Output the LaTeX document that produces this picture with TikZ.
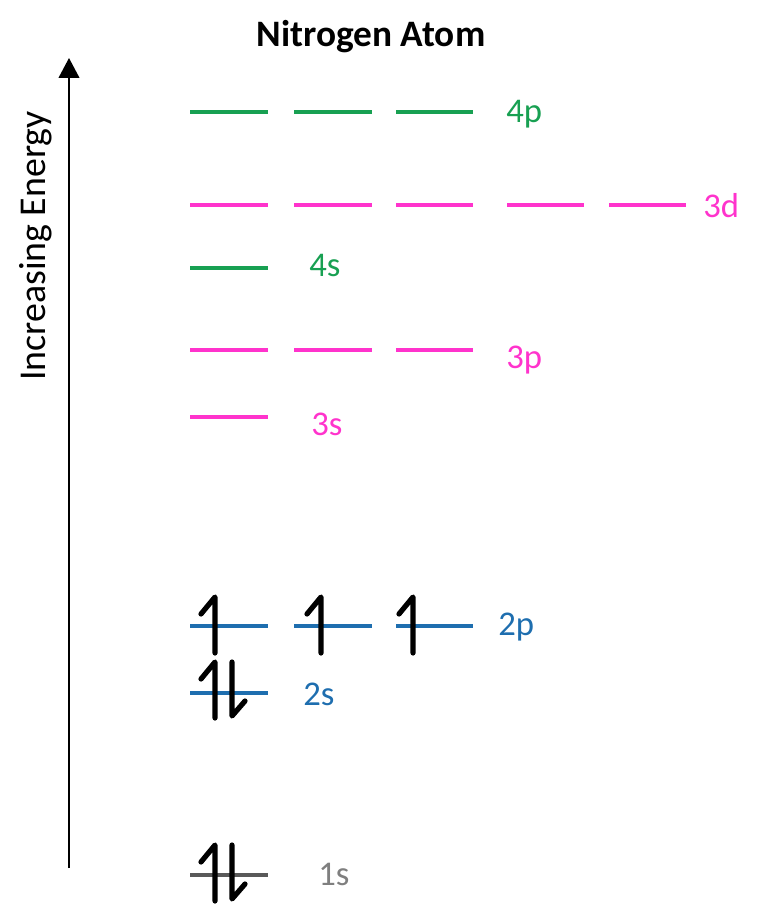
\documentclass[tikz,border=0pt]{standalone}
\usepackage{fontspec}
\setmainfont{Carlito}
\usetikzlibrary{arrows.meta}
\definecolor{orbgreen}{RGB}{24,160,82}
\definecolor{orbpink}{RGB}{255,51,204}
\definecolor{orbblue}{RGB}{30,110,175}
\definecolor{orbgray}{RGB}{89,89,89}
\definecolor{lblgray}{RGB}{127,127,127}
\tikzset{
  orb/.style={line width=3.2pt},
  lbl/.style={anchor=base west, inner sep=0pt, font=\fontsize{26}{31}\selectfont},
  elec/.style={line width=3.9pt, black, line cap=round, line join=round},
  eup/.pic={\draw[elec] (-14,17) -- (0,0) -- (0,56);},
  edown/.pic={\draw[elec] (0,0) -- (0,54) -- (13,39);}
}
\begin{document}
\begin{tikzpicture}[x=0.75pt,y=-0.75pt]
\useasboundingbox (0,0) rectangle (763,919);
% title
\node[anchor=base, inner sep=0pt, font=\fontsize{28}{33}\selectfont\bfseries] (title) at (371,47) {Nitrogen Atom};
% axis
\coordinate (axbot) at (69,868);
\coordinate (axtop) at (69,58);
\draw[line width=1.5pt, -{Triangle[length=15pt,width=15.5pt]}] (axbot) -- (axtop);
\node[rotate=90, anchor=base, inner sep=0pt, font=\fontsize{28.4}{33}\selectfont] (axlbl) at (45,246) {Increasing Energy};
% 4p
\foreach \a/\b in {190/268,294/372,396/473} \draw[orb, orbgreen] (\a,112) -- (\b,112);
\node[lbl, text=orbgreen] (l4p) at (506,123) {4p};
% 3d
\foreach \a/\b in {190/268,294/372,396/473,507/584,609/686} \draw[orb, orbpink] (\a,205) -- (\b,205);
\node[lbl, text=orbpink] (l3d) at (703,218) {3d};
% 4s
\draw[orb, orbgreen] (190,268) -- (268,268);
\node[lbl, text=orbgreen] (l4s) at (309,277) {4s};
% 3p
\foreach \a/\b in {190/268,294/372,396/473} \draw[orb, orbpink] (\a,350) -- (\b,350);
\node[lbl, text=orbpink] (l3p) at (506,368) {3p};
% 3s
\draw[orb, orbpink] (190,417) -- (268,417);
\node[lbl, text=orbpink] (l3s) at (311,435) {3s};
% 2p
\foreach \a/\b in {190/268,294/372,396/473} \draw[orb, orbblue] (\a,626) -- (\b,626);
\node[lbl, text=orbblue] (l2p) at (498,635) {2p};
% 2s
\draw[orb, orbblue] (190,693) -- (268,693);
\node[lbl, text=orbblue] (l2s) at (303,705) {2s};
% 1s
\draw[orb, orbgray] (190,875) -- (268,875);
\node[lbl, text=lblgray] (l1s) at (318,885) {1s};
% electrons
\pic at (215,597) {eup};
\pic at (321,597) {eup};
\pic at (413,597) {eup};
\pic at (215,662) {eup};
\pic at (232,662) {edown};
\pic at (215,845) {eup};
\pic at (232,845) {edown};
\end{tikzpicture}
\end{document}
